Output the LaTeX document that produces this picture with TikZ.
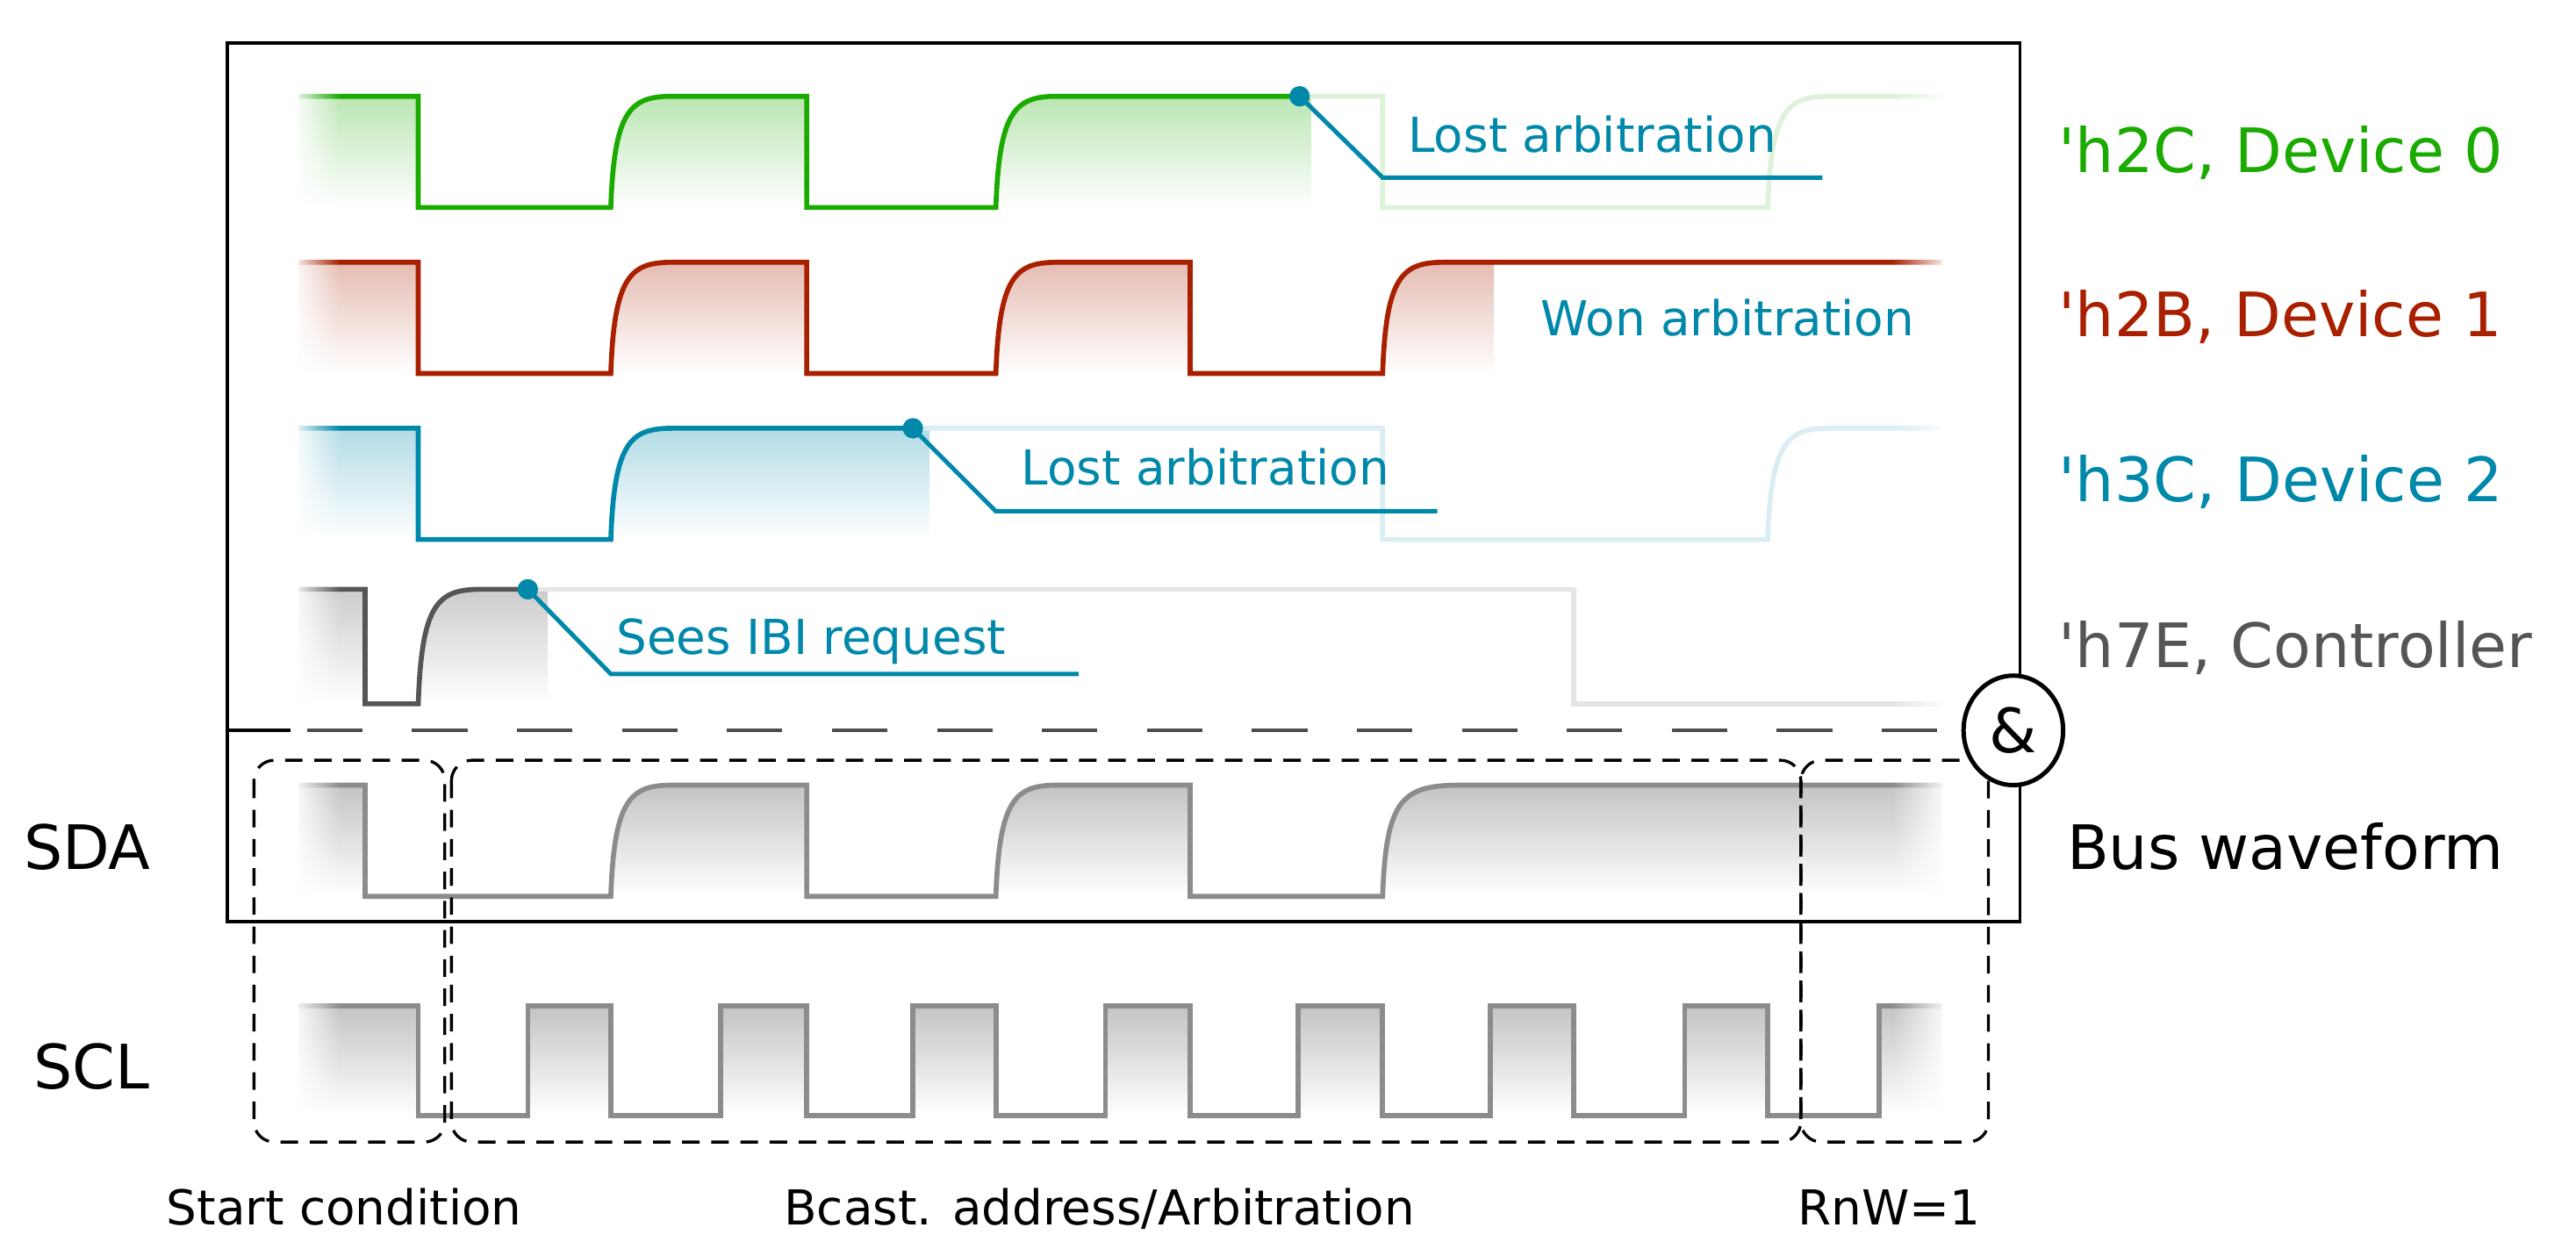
\documentclass[tikz,border=0pt]{standalone}
\usepackage{fontspec}
\newfontfamily\dv{DejaVu Sans}
\usetikzlibrary{fadings,shapes.geometric}
\definecolor{cg}{HTML}{1AAA00}
\definecolor{cr}{HTML}{A82000}
\definecolor{cb}{HTML}{0088AA}
\definecolor{ck}{HTML}{555555}
\definecolor{cbus}{HTML}{8C8C8C}
\begin{document}
\begin{tikzpicture}[x=0.02cm,y=-0.02cm,
  wave/.style={line width=1.7pt,line join=miter},
  faded/.style={line width=1.7pt},
  lead/.style={cb,line width=1.5pt},
  dot/.style={circle,fill=cb,inner sep=0pt,minimum size=7pt},
  big/.style={font=\dv\fontsize{21}{25}\selectfont,inner sep=0pt,anchor=base west},
  mid/.style={font=\dv\fontsize{16.5}{20}\selectfont,inner sep=0pt,anchor=base west},
  box/.style={dash pattern=on 6pt off 4pt,line width=1pt,rounded corners=7pt}]
\useasboundingbox (0,0) rectangle (1552,748);
% fills
\shade[top color=cg!30,bottom color=white] (180,58) -- (252,58) -- (252,125) -- (368,125) .. controls (370,66) and (380,58) .. (405,58) -- (486,58) -- (486,125) -- (600,125) .. controls (602,66) and (612,58) .. (637,58) -- (790,58) -- (790,125) -- (180,125) -- cycle;
\shade[top color=cr!30,bottom color=white] (180,158) -- (252,158) -- (252,225) -- (368,225) .. controls (370,166) and (380,158) .. (405,158) -- (486,158) -- (486,225) -- (600,225) .. controls (602,166) and (612,158) .. (637,158) -- (717,158) -- (717,225) -- (833,225) .. controls (835,166) and (845,158) .. (870,158) -- (900,158) -- (900,225) -- (180,225) -- cycle;
\shade[top color=cb!30,bottom color=white] (180,258) -- (252,258) -- (252,325) -- (368,325) .. controls (370,266) and (380,258) .. (405,258) -- (560,258) -- (560,325) -- (180,325) -- cycle;
\shade[top color=ck!30,bottom color=white] (180,355) -- (220,355) -- (220,424) -- (252,424) .. controls (254,363) and (264,355) .. (290,355) -- (330,355) -- (330,424) -- (180,424) -- cycle;
\shade[top color=ck!35,bottom color=white] (180,473) -- (220,473) -- (220,540) -- (368,540) .. controls (370,481) and (380,473) .. (405,473) -- (486,473) -- (486,540) -- (600,540) .. controls (602,481) and (612,473) .. (637,473) -- (717,473) -- (717,540) -- (833,540) .. controls (835,481) and (845,473) .. (880,473) -- (1170,473) -- (1170,540) -- (180,540) -- cycle;
\shade[top color=ck!35,bottom color=white] (180,606) -- (252,606) -- (252,672) -- (318,672) -- (318,606) -- (368,606) -- (368,672)
  -- (434,672) -- (434,606) -- (486,606) -- (486,672) -- (550,672) -- (550,606) -- (600,606) -- (600,672)
  -- (666,672) -- (666,606) -- (717,606) -- (717,672) -- (782,672) -- (782,606) -- (833,606) -- (833,672)
  -- (898,672) -- (898,606) -- (948,606) -- (948,672) -- (1015,672) -- (1015,606) -- (1065,606) -- (1065,672)
  -- (1132,672) -- (1132,606) -- (1170,606) -- (1170,672) -- (180,672) -- cycle;
% faded parts
\draw[faded,cg!15] (783,58) -- (833,58) -- (833,125) -- (1065,125) .. controls (1067,66) and (1077,58) .. (1102,58) -- (1170,58);
\draw[faded,cb!15] (550,258) -- (833,258) -- (833,325) -- (1065,325) .. controls (1067,266) and (1077,258) .. (1102,258) -- (1170,258);
\draw[faded,ck!15] (318,355) -- (948,355) -- (948,424) -- (1170,424);
% waves
\draw[wave,cg] (180,58) -- (252,58) -- (252,125) -- (368,125) .. controls (370,66) and (380,58) .. (405,58) -- (486,58) -- (486,125) -- (600,125) .. controls (602,66) and (612,58) .. (637,58) -- (783,58);
\draw[wave,cr] (180,158) -- (252,158) -- (252,225) -- (368,225) .. controls (370,166) and (380,158) .. (405,158) -- (486,158) -- (486,225) -- (600,225) .. controls (602,166) and (612,158) .. (637,158) -- (717,158) -- (717,225) -- (833,225) .. controls (835,166) and (845,158) .. (870,158) -- (1170,158);
\draw[wave,cb] (180,258) -- (252,258) -- (252,325) -- (368,325) .. controls (370,266) and (380,258) .. (405,258) -- (550,258);
\draw[wave,ck] (180,355) -- (220,355) -- (220,424) -- (252,424) .. controls (254,363) and (264,355) .. (290,355) -- (318,355);
\draw[wave,cbus] (180,473) -- (220,473) -- (220,540) -- (368,540) .. controls (370,481) and (380,473) .. (405,473) -- (486,473) -- (486,540) -- (600,540) .. controls (602,481) and (612,473) .. (637,473) -- (717,473) -- (717,540) -- (833,540) .. controls (835,481) and (845,473) .. (880,473) -- (1170,473);
\draw[wave,cbus] (180,606) -- (252,606) -- (252,672) -- (318,672) -- (318,606) -- (368,606) -- (368,672)
  -- (434,672) -- (434,606) -- (486,606) -- (486,672) -- (550,672) -- (550,606) -- (600,606) -- (600,672)
  -- (666,672) -- (666,606) -- (717,606) -- (717,672) -- (782,672) -- (782,606) -- (833,606) -- (833,672)
  -- (898,672) -- (898,606) -- (948,606) -- (948,672) -- (1015,672) -- (1015,606) -- (1065,606) -- (1065,672)
  -- (1132,672) -- (1132,606) -- (1170,606);
% edge fades
\fill[white,path fading=east] (176,40) rectangle (205,700);
\fill[white,path fading=west] (1140,40) rectangle (1174,700);
% frame and separator
\draw[line width=1.2pt] (137,26) rectangle (1217,555);
\draw[line width=1.2pt] (137,440) -- (175,440);
\draw[line width=1.2pt,black!70,dash pattern=on 19pt off 17pt] (185,440) -- (1180,440);
% dashed boxes
\draw[box] (153,458) rectangle (268,688);
\draw[box] (272,458) rectangle (1085,688);
\draw[box] (1085,458) rectangle (1198,688);
\node[draw,ellipse,line width=1.5pt,fill=white,inner sep=0pt,minimum width=1.2cm,minimum height=1.32cm,font=\dv\fontsize{21}{25}\selectfont] (and) at (1213,440) {\&};
% leaders
\coordinate (d0) at (783,58); \coordinate (d0a) at (833,107); \coordinate (d0b) at (1098,107);
\coordinate (d2) at (550,258); \coordinate (d2a) at (600,308); \coordinate (d2b) at (866,308);
\coordinate (d3) at (318,355); \coordinate (d3a) at (368,406); \coordinate (d3b) at (650,406);
\draw[lead] (d0) -- (d0a) -- (d0b);
\draw[lead] (d2) -- (d2a) -- (d2b);
\draw[lead] (d3) -- (d3a) -- (d3b);
\node[dot] at (d0) {}; \node[dot] at (d2) {}; \node[dot] at (d3) {};
\node[mid,cb] (l0) at (848,92) {Lost arbitration};
\node[mid,cb] (l1) at (928,202) {Won arbitration};
\node[mid,cb] (l2) at (615,292) {Lost arbitration};
\node[mid,cb] (l3) at (371,394) {Sees IBI request};
% right labels
\node[big,cg] (r0) at (1240,104) {'h2C, Device 0};
\node[big,cr] (r1) at (1240,203) {'h2B, Device 1};
\node[big,cb] (r2) at (1240,302) {'h3C, Device 2};
\node[big,ck] (r3) at (1240,402) {'h7E, Controller};
\node[big] (r4) at (1245,524) {Bus waveform};
\node[big] (sda) at (14,524) {SDA};
\node[big] (scl) at (20,656) {SCL};
\node[mid] (b0) at (100,738) {Start condition};
\node[mid] (b1) at (472,738) {Bcast. address/Arbitration};
\node[mid] (b2) at (1083,738) {RnW=1};
\end{tikzpicture}
\end{document}
